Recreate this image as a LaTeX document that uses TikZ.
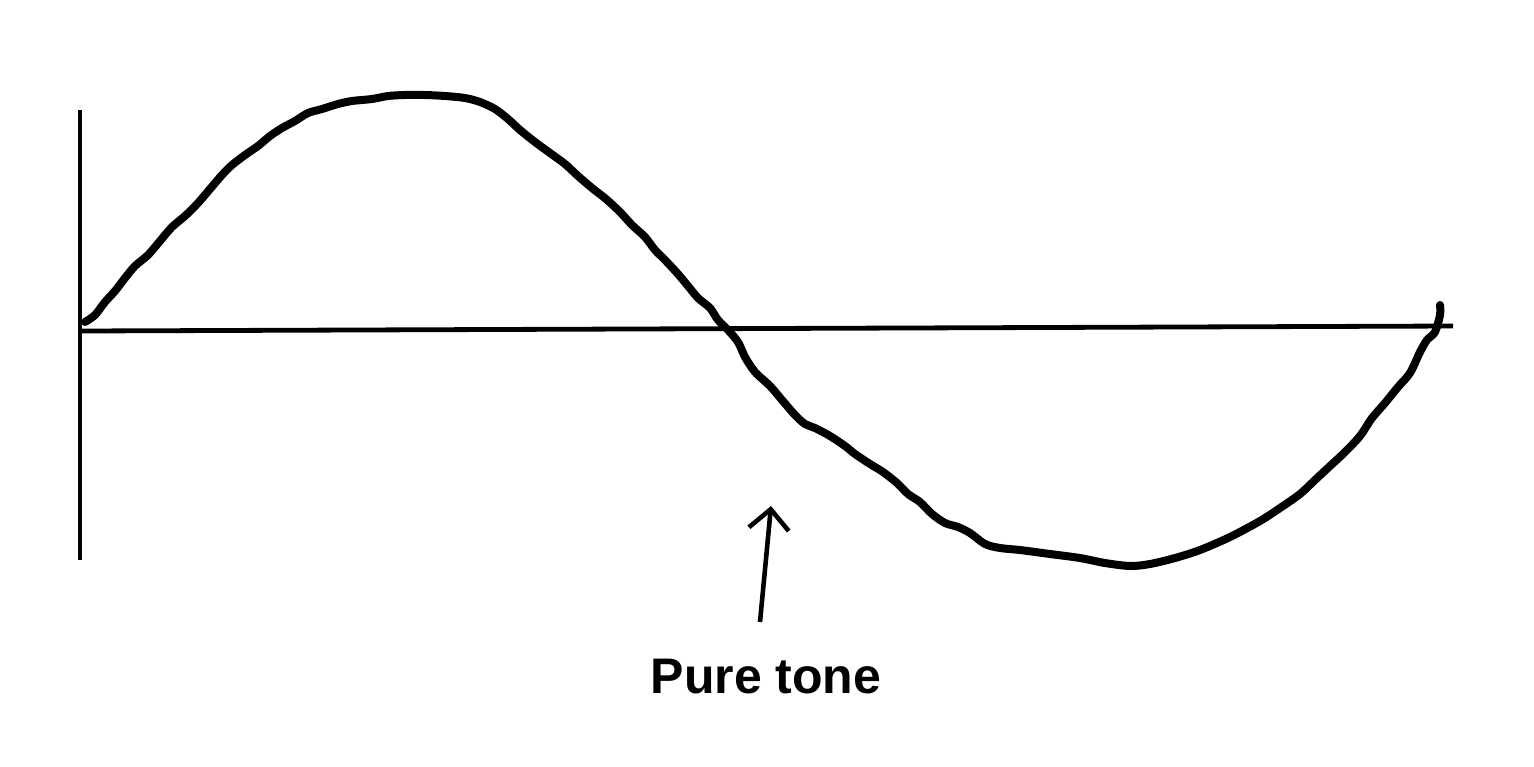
\documentclass[tikz,border=0pt]{standalone}
\usepackage{fontspec}
\setmainfont{Liberation Sans}
\usetikzlibrary{arrows.meta}
\begin{document}
\begin{tikzpicture}[x=0.5pt,y=-0.5pt,
  axis/.style={line width=2.4pt,black},
  wave/.style={line width=4pt,black,line cap=round,line join=round},
  pointer/.style={line width=2.3pt,black,-{Straight Barb[length=10pt,width=20pt,line width=2.3pt]}},
  label/.style={font=\fontsize{25}{30}\selectfont\bfseries,inner sep=0pt}]
\useasboundingbox (0,0) rectangle (1534,766);
% axes
\coordinate (vtop) at (80,110);
\coordinate (vbot) at (80,560);
\coordinate (hl) at (82,331);
\coordinate (hr) at (1453,326);
\draw[axis] (vtop) -- (vbot);
\draw[axis] (hl) -- (hr);
% wave
\draw[wave] plot[smooth,tension=0.5] coordinates {
(85,322) (95,315) (105,302) (115,291) (125,278) (135,266) (148,255) (160,241)
(172,227) (185,216) (198,203) (210,189) (222,175) (232,165) (245,155) (258,146)
(270,136) (282,128) (295,121) (308,113) (322,109) (338,104) (352,101) (372,99)
(388,96) (405,95) (425,95) (445,96) (465,98) (480,102) (495,109) (508,119)
(520,130) (535,142) (550,153) (565,164) (578,176) (592,188) (606,199) (620,212)
(632,225) (645,237) (655,250) (665,260) (678,274) (688,286) (698,298) (710,308)
(718,320) (728,330) (738,342) (745,357) (755,372) (770,386) (782,400) (795,415)
(805,424) (815,428) (830,436) (845,446) (855,454) (870,464) (883,472) (897,483)
(908,494) (920,502) (932,514) (945,523) (958,527) (970,533) (985,544) (1000,548)
(1020,550) (1050,554) (1080,558) (1105,563) (1130,566) (1150,564) (1175,558)
(1200,550) (1230,537) (1260,521) (1280,508) (1300,494) (1315,480) (1330,466)
(1345,452) (1360,436) (1372,418) (1385,403) (1398,387) (1410,373) (1420,352)
(1427,340) (1435,332) (1440,315) (1440,305)};
% label and pointer
\node[label] (lbl) at (766,677) {Pure tone};
\coordinate (ptail) at (760,622);
\coordinate (phead) at (771,506);
\draw[pointer] (ptail) -- (phead);
\end{tikzpicture}
\end{document}
